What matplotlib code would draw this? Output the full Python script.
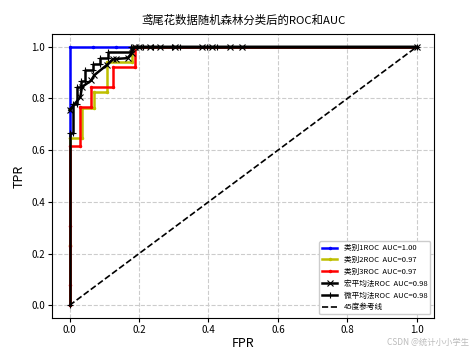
# ROC curves of the iris random forest classifier (per class, macro, micro)
import numpy as np
import matplotlib.pyplot as plt

plt.rcParams['font.family'] = ['Noto Sans CJK SC', 'DejaVu Sans']
plt.rcParams['axes.unicode_minus'] = False

# --- data ---
fpr1 = [0.0, 0.0, 0.0, 0.067, 0.133, 0.18, 1.0]
tpr1 = [0.0, 0.75, 1.0, 1.0, 1.0, 1.0, 1.0]

fpr2 = [0.0, 0.0, 0.0, 0.0, 0.036, 0.036, 0.071, 0.071, 0.107, 0.107, 0.179, 0.179, 1.0]
tpr2 = [0.0, 0.235, 0.647, 0.647, 0.647, 0.765, 0.765, 0.824, 0.824, 0.941, 0.941, 1.0, 1.0]

fpr3 = [0.0, 0.0, 0.0, 0.0, 0.0, 0.031, 0.031, 0.063, 0.063, 0.125, 0.125, 0.188, 0.188, 1.0]
tpr3 = [0.0, 0.077, 0.231, 0.308, 0.615, 0.615, 0.769, 0.769, 0.846, 0.846, 0.923, 0.923, 1.0, 1.0]

fpr_macro = [0.0, 0.031, 0.036, 0.063, 0.071, 0.107, 0.125, 0.133, 0.167, 0.179, 0.188,
             0.2, 0.232, 0.26, 0.304, 0.381, 0.41, 0.462, 0.496, 1.0]
tpr_macro = [0.755, 0.805, 0.845, 0.870, 0.890, 0.929, 0.952, 0.953, 0.956, 0.975, 1.0,
             1.0, 1.0, 1.0, 1.0, 1.0, 1.0, 1.0, 1.0, 1.0]

fpr_micro = [0.0, 0.0, 0.011, 0.011, 0.022, 0.022, 0.033, 0.033, 0.044, 0.044, 0.067, 0.067,
             0.089, 0.089, 0.111, 0.111, 0.178, 0.178, 0.212, 0.24, 0.295, 0.318, 0.396, 0.424, 1.0]
tpr_micro = [0.0, 0.667, 0.667, 0.778, 0.778, 0.844, 0.844, 0.867, 0.867, 0.911, 0.911, 0.933,
             0.933, 0.956, 0.956, 0.978, 0.978, 1.0, 1.0, 1.0, 1.0, 1.0, 1.0, 1.0, 1.0]

auc = [1.00, 0.97, 0.97]
auc_macro = 0.98
auc_micro = 0.98

# --- plot ---
fig = plt.figure(figsize=(4.74, 3.49), dpi=100)
ax = fig.add_axes([0.110, 0.088, 0.806, 0.815])

ax.plot(fpr1, tpr1, color='b', lw=1.8, marker='.', ms=3, label=f'类别1ROC  AUC={auc[0]:.2f}')
ax.plot(fpr2, tpr2, color='y', lw=1.8, marker='.', ms=3, label=f'类别2ROC  AUC={auc[1]:.2f}')
ax.plot(fpr3, tpr3, color='r', lw=1.8, marker='.', ms=3, label=f'类别3ROC  AUC={auc[2]:.2f}')
ax.plot(fpr_macro, tpr_macro, color='k', lw=1.8, marker='x', ms=4, mew=0.8,
        label=f'宏平均法ROC  AUC={auc_macro:.2f}')
ax.plot(fpr_micro, tpr_micro, color='k', lw=1.8, marker='+', ms=4, mew=0.8,
        label=f'微平均法ROC  AUC={auc_micro:.2f}')
ax.plot([0, 1], [0, 1], 'k--', lw=1.2, label='45度参考线')

ax.set_xlim(-0.05, 1.05)
ax.set_ylim(-0.05, 1.05)
ax.set_xticks([0.0, 0.2, 0.4, 0.6, 0.8, 1.0])
ax.set_yticks([0.0, 0.2, 0.4, 0.6, 0.8, 1.0])
ax.tick_params(labelsize=7, length=3, pad=2)
ax.set_xlabel('FPR', fontsize=9, labelpad=1)
ax.set_ylabel('TPR', fontsize=9, labelpad=4)
ax.set_title('鸢尾花数据随机森林分类后的ROC和AUC', fontsize=8.2, pad=7)
ax.grid(True, linestyle='--', color='#cccccc', lw=0.8)
ax.legend(loc='lower right', fontsize=5.5, framealpha=1, handlelength=2.0)

fig.text(0.99, 0.005, 'CSDN @统计小小学生', ha='right', va='bottom', fontsize=6, color='#bbbbbb')

plt.savefig('out.png', dpi=100)
